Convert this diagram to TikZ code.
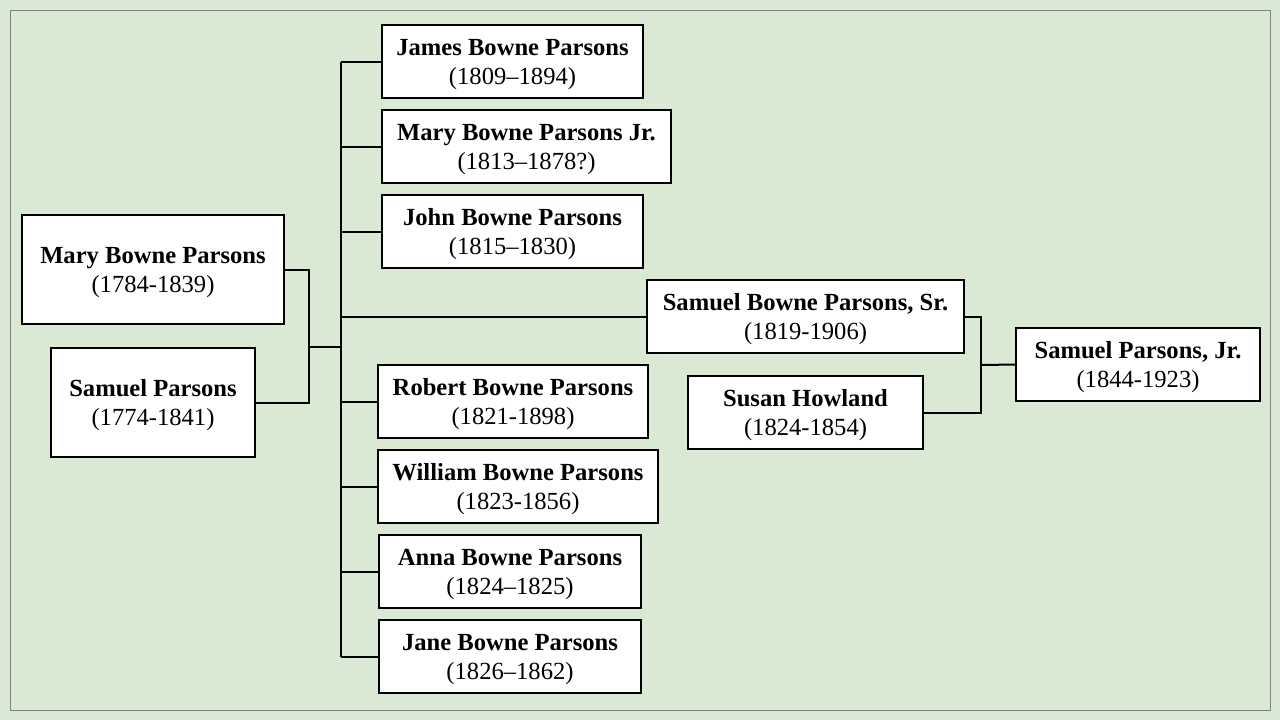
\documentclass[tikz,border=0pt]{standalone}
\usepackage{fontspec}
\setmainfont{Liberation Serif}
\begin{document}
\begin{tikzpicture}[x=1pt,y=-1pt,
 pbox/.style={draw=black,line width=2pt,fill=white},
 lbl/.style={align=center,font=\fontsize{24.6}{29}\selectfont,inner sep=0pt},
 ln/.style={line width=2pt}]
\fill[fill={rgb,255:red,217;green,233;blue,211}] (0,0) rectangle (1280,720);
\draw[gray,line width=0.8pt] (10,10) rectangle (1270,710);
\useasboundingbox (0,0) rectangle (1280,720);
\newcommand{\pb}[7]{%
 \draw[pbox] (#2,#3) rectangle (#4,#5);
 \node[lbl] (#1) at ({(#2+#4)/2},{(#3+#5)/2+3}) {\textbf{#6}\\#7};
 \coordinate (#1L) at (#2,{(#3+#5)/2});
 \coordinate (#1R) at (#4,{(#3+#5)/2});}
\pb{james}{382}{25}{643}{98}{James Bowne Parsons}{(1809–1894)}
\pb{maryjr}{382}{110}{671}{183}{Mary Bowne Parsons Jr.}{(1813–1878?)}
\pb{john}{382}{195}{643}{268}{John Bowne Parsons}{(1815–1830)}
\pb{samsr}{647}{280}{964}{353}{Samuel Bowne Parsons, Sr.}{(1819-1906)}
\pb{robert}{378}{365}{648}{438}{Robert Bowne Parsons}{(1821-1898)}
\pb{william}{378}{450}{658}{523}{William Bowne Parsons}{(1823-1856)}
\pb{anna}{379}{535}{641}{608}{Anna Bowne Parsons}{(1824–1825)}
\pb{jane}{379}{620}{641}{693}{Jane Bowne Parsons}{(1826–1862)}
\pb{mary}{22}{215}{284}{324}{Mary Bowne Parsons}{(1784-1839)}
\pb{samuel}{51}{348}{255}{457}{Samuel Parsons}{(1774-1841)}
\pb{susan}{688}{376}{923}{449}{Susan Howland}{(1824-1854)}
\pb{samjr}{1016}{328}{1260}{401}{Samuel Parsons, Jr.}{(1844-1923)}
\coordinate (m1) at (309,347);
\coordinate (m2) at (981,365);
\draw[ln] (maryR) -- (309,269.5) -- (309,402.5) -- (samuelR);
\draw[ln] (m1) -- (341,347);
\draw[ln] (341,61.5) -- (341,656.5);
\foreach \c in {james,maryjr,john,samsr,robert,william,anna,jane}
  \draw[ln] (341,0 |- \c L) -- (\c L);
\draw[ln] (samsrR) -- (981,316.5) -- (981,412.5) -- (susanR);
\draw[ln] (m2) -- (samjrL);
\end{tikzpicture}
\end{document}
